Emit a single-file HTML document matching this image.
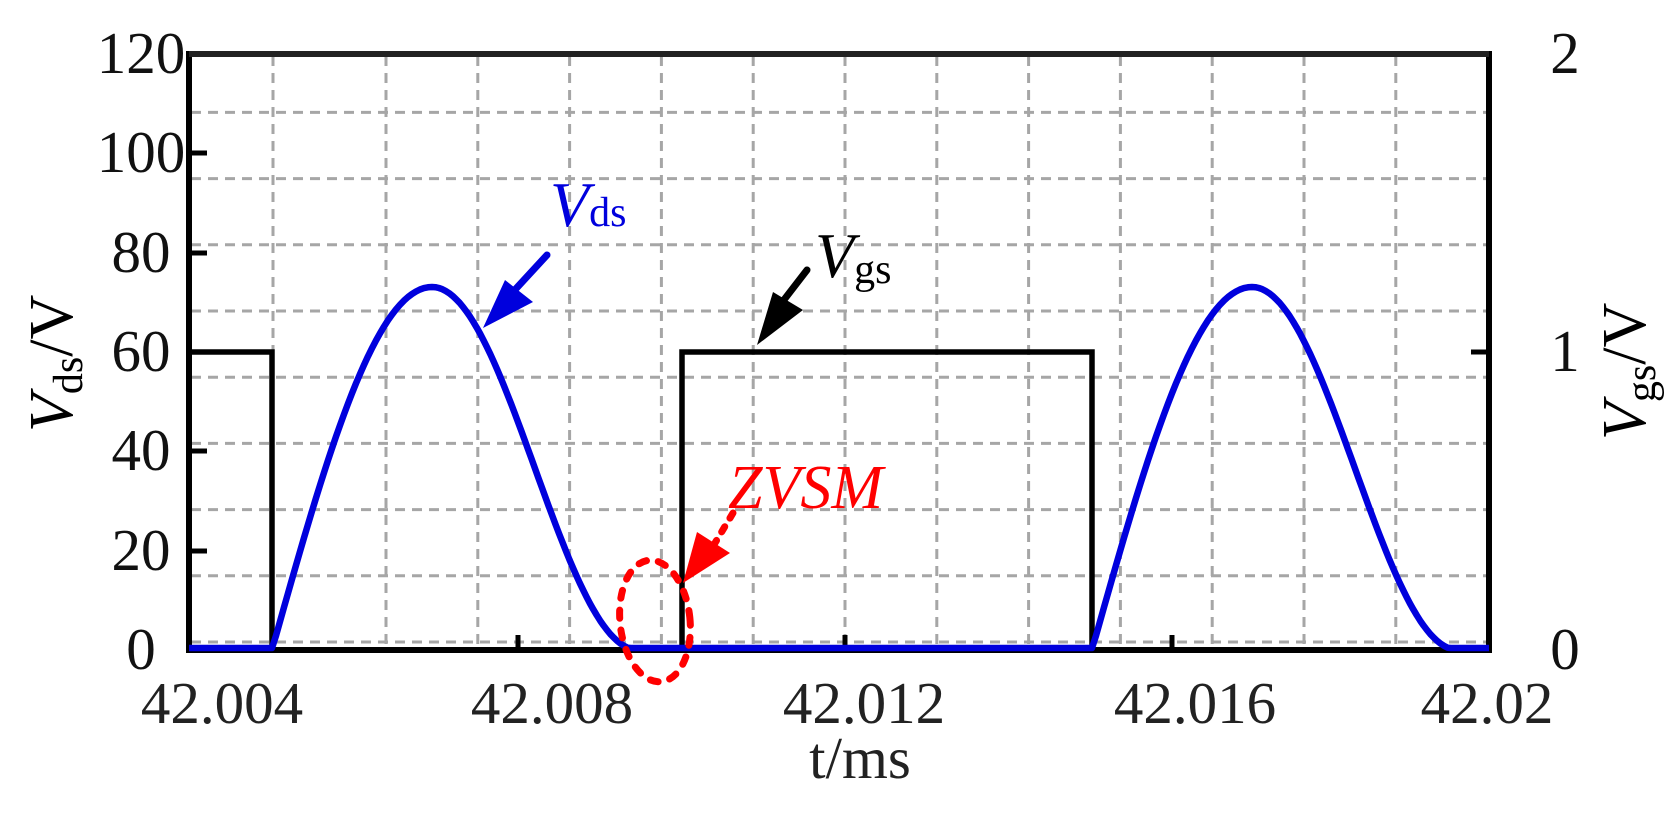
<!DOCTYPE html>
<html><head><meta charset="utf-8"><style>
html,body{margin:0;padding:0;background:#fff;}
svg{display:block;}
text{font-family:"Liberation Serif",serif;}
</style></head><body>
<svg id="s" width="1673" height="838" viewBox="0 0 1673 838" xmlns="http://www.w3.org/2000/svg">
<g id="grid" stroke="#a6a6a6" stroke-width="3" stroke-dasharray="10 7" fill="none"></g>
<!-- gate -->
<path d="M189,352 H272 V650 H682 V352 H1092 V650 H1489" stroke="#000" stroke-width="5.5" fill="none" stroke-linejoin="miter"/>
<!-- axes -->
<rect x="189" y="54" width="1300" height="596" fill="none" stroke="#000" stroke-width="6"/>
<line x1="189" y1="54" x2="1489" y2="54" stroke="#222" stroke-width="6"/>
<g stroke="#000" stroke-width="5">
<line x1="189" y1="153" x2="207" y2="153"/><line x1="189" y1="253" x2="207" y2="253"/>
<line x1="189" y1="352" x2="207" y2="352"/><line x1="189" y1="451" x2="207" y2="451"/>
<line x1="189" y1="551" x2="207" y2="551"/>
<line x1="1489" y1="352" x2="1471" y2="352"/>
<line x1="518" y1="650" x2="518" y2="635"/><line x1="845" y1="650" x2="845" y2="635"/>
<line x1="1172" y1="650" x2="1172" y2="635"/>
</g>
<path id="vds" stroke="#0000dd" stroke-width="6.5" fill="none" stroke-linejoin="round"/>
<!-- tick labels -->
<g font-size="59" fill="#111" text-anchor="middle">
<text x="141" y="73">120</text><text x="141" y="172">100</text><text x="141" y="272">80</text>
<text x="141" y="371">60</text><text x="141" y="470">40</text><text x="141" y="570">20</text>
<text x="141" y="669">0</text>
<text x="1565" y="73">2</text><text x="1565" y="371">1</text><text x="1565" y="669">0</text>
</g>
<g font-size="59" fill="#222" text-anchor="middle">
<text x="222" y="723">42.004</text><text x="552" y="723">42.008</text><text x="864" y="723">42.012</text>
<text x="1195" y="723">42.016</text><text x="1487" y="723">42.02</text>
<text x="860" y="778">t/ms</text>
</g>
<!-- axis titles -->
<text transform="translate(72,432) rotate(-90)" font-size="62" fill="#000"><tspan font-style="italic">V</tspan><tspan font-size="42" dy="10">ds</tspan><tspan dy="-10">/V</tspan></text>
<text transform="translate(1645,440) rotate(-90)" font-size="62" fill="#000"><tspan font-style="italic">V</tspan><tspan font-size="42" dy="10">gs</tspan><tspan dy="-10">/V</tspan></text>
<!-- Vds annotation -->
<text x="550" y="226" font-size="64" fill="#0000dd"><tspan font-style="italic">V</tspan><tspan font-size="42">ds</tspan></text>
<line x1="547" y1="255" x2="500" y2="306" stroke="#0000dd" stroke-width="7" stroke-linecap="round"/>
<polygon points="483,328 505,280 533,302" fill="#0000dd"/>
<!-- Vgs annotation -->
<text x="815" y="277" font-size="64" fill="#000"><tspan font-style="italic">V</tspan><tspan font-size="42" dy="6">gs</tspan></text>
<line x1="807" y1="270" x2="780" y2="305" stroke="#000" stroke-width="7" stroke-linecap="round"/>
<polygon points="757,345 773,292 803,310" fill="#000"/>
<!-- ZVSM -->
<text x="728" y="508" font-size="62" font-style="italic" fill="#ff0000">ZVSM</text>
<line x1="733" y1="513" x2="712" y2="548" stroke="#ff0000" stroke-width="7" stroke-linecap="round" stroke-dasharray="6 10"/>
<polygon points="683,583 697,532 730,553" fill="#ff0000"/>
<ellipse cx="655" cy="621" rx="35" ry="61" transform="rotate(-6 655 621)" fill="none" stroke="#ff0000" stroke-width="7" stroke-linecap="round" stroke-dasharray="8 12"/>
</svg>
<script>
(function(){
var g=document.getElementById('grid'),h='';
var xs=[273];for(var x=386;x<1480;x+=91.8)xs.push(x);
xs.forEach(function(x){h+='<line x1="'+x+'" y1="56" x2="'+x+'" y2="648"/>';});
for(var k=0;k<9;k++){var y=642-66.2*k;h+='<line x1="191" y1="'+y+'" x2="1487" y2="'+y+'"/>';}
g.innerHTML=h;
function hump(s,p,e){var pts=[],A=363;
for(var i=0;i<=40;i++){var u=i/40;pts.push([s+(p-s)*u,650-A*Math.sin(Math.PI/2*u)]);}
for(var i=1;i<=60;i++){var v=i/60;pts.push([p+(e-p)*v,650-A*(1+Math.cos(Math.PI*v))/2]);}
return pts;}
var pts=[[189,648],[272,648]].concat(hump(272,432,638)).concat([[1092,648]]).concat(hump(1092,1252,1458)).concat([[1489,648]]);
document.getElementById('vds').setAttribute('d','M'+pts.map(function(p){return p[0].toFixed(1)+','+Math.min(p[1],648).toFixed(1);}).join(' L'));
})();
</script>
</body></html>
